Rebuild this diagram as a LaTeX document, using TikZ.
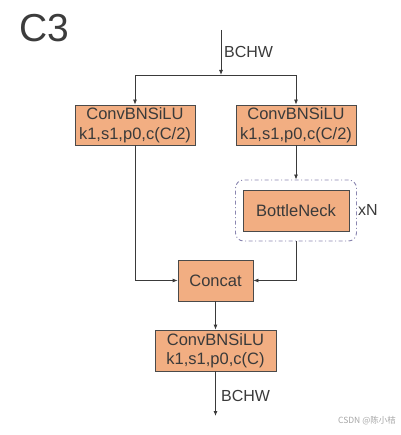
\documentclass[tikz,border=0pt]{standalone}
\usepackage{fontspec}
\setmainfont{Liberation Sans}
\newfontfamily\cjkfont{Noto Sans CJK SC}
\usetikzlibrary{arrows.meta}
\definecolor{boxfill}{HTML}{F2AE82}
\definecolor{boxline}{HTML}{4A4A4A}
\definecolor{linec}{HTML}{3A3A3A}
\definecolor{txt}{HTML}{3A3A3A}
\definecolor{dashc}{HTML}{8A86B0}
\definecolor{titlec}{HTML}{3C3C3C}
\begin{document}
\begin{tikzpicture}[x=1pt,y=-1pt,
  lbl/.style={font=\fontsize{16}{19}\selectfont, text=txt, inner sep=0pt},
  blk/.style={draw=boxline, fill=boxfill, line width=0.8pt, inner sep=0pt, text=txt,
    font=\fontsize{16.5}{19.5}\selectfont, align=center},
  repbox/.style={draw=dashc, line width=0.9pt, rounded corners=8pt,
    dash pattern=on 4pt off 2.5pt on 1pt off 2.5pt, minimum width=121pt, minimum height=61pt, inner sep=0pt},
  arr/.style={draw=linec, line width=0.8pt, -{Latex[length=5pt,width=4pt]}}]
\useasboundingbox (0,0) rectangle (400,435);
\node[anchor=west, inner sep=0pt, font=\fontsize{39}{39}\selectfont, text=titlec] (title) at (19,28) {C3};
\node[blk, minimum width=120pt, minimum height=40pt] (cv1) at (135,125) {ConvBNSiLU\\k1,s1,p0,c(C/2)};
\node[blk, minimum width=120pt, minimum height=40pt] (cv2) at (296,125) {ConvBNSiLU\\k1,s1,p0,c(C/2)};
\node[repbox] (rep) at (296,210.5) {};
\node[blk, minimum width=106pt, minimum height=41pt] (bn) at (296,210.5) {BottleNeck};
\node[lbl, anchor=west] (xn) at (358,210) {xN};
\node[blk, minimum width=75pt, minimum height=41pt] (cat) at (215.5,280.5) {Concat};
\node[blk, minimum width=121pt, minimum height=41pt] (cv3) at (215.5,350.5) {ConvBNSiLU\\k1,s1,p0,c(C)};
\coordinate (in) at (221,30);
\coordinate (split) at (221,75);
\coordinate (out) at (215.5,416);
\draw[arr] (in) -- (split);
\draw[arr] (split) -| (cv1.north);
\draw[arr] (split) -| (cv2.north);
\draw[arr] (cv2.south) -- (rep.north);
\draw[arr] (rep.south) |- (cat.east);
\draw[arr] (cv1.south) |- (cat.west);
\draw[arr] (cat.south) -- (cv3.north);
\draw[arr] (cv3.south) -- (out);
\node[lbl, anchor=west] (bchw1) at (224,52) {BCHW};
\node[lbl, anchor=west] (bchw2) at (221,396) {BCHW};
\node[anchor=east, inner sep=0pt, font=\cjkfont\fontsize{8.5}{9}\selectfont, text=black!35] (wm) at (396,421) {CSDN @陈小桔};
\end{tikzpicture}
\end{document}
